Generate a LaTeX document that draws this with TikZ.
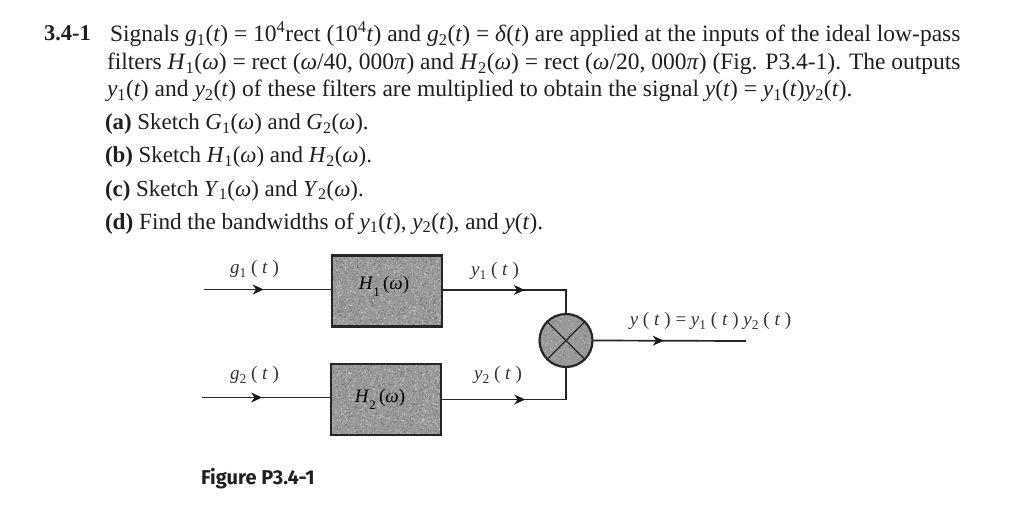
\documentclass[tikz,border=0pt]{standalone}
\usepackage{fontspec}
\setmainfont{Liberation Serif}
\newfontfamily\figfont{Fira Sans}
\usetikzlibrary{decorations.markings,arrows.meta}
\newcommand{\ii}[1]{\textit{#1}}
\newcommand{\lo}[1]{\textsubscript{#1}}
\newcommand{\flo}[1]{\raisebox{-4.5pt}{\fontsize{13.5}{14}\selectfont #1}}
\newcommand{\hlo}[1]{\raisebox{-7pt}{\fontsize{13}{14}\selectfont #1}\,}
\pgfmathsetseed{4711}
\tikzset{
  txt/.style={anchor=base west,inner sep=0pt,outer sep=0pt,text=black!88,font=\fontsize{23.5}{26}\selectfont},
  part/.style={txt,font=\fontsize{22.9}{26}\selectfont},
  lab/.style={anchor=base,inner sep=0pt,outer sep=0pt,text=black!80,font=\fontsize{19}{22}\selectfont},
  inlab/.style={anchor=center,inner sep=0pt,outer sep=0pt,text=black,font=\fontsize{19}{22}\selectfont},
  speckle/.style={path picture={
    \foreach \k in {1,...,#1}{
      \pgfmathsetmacro{\dx}{rnd*120-60}
      \pgfmathsetmacro{\dy}{rnd*80-40}
      \fill[white,opacity=.3] ([shift={(\dx pt,\dy pt)}]path picture bounding box.center) circle (.8pt);
      \pgfmathsetmacro{\ex}{rnd*120-60}
      \pgfmathsetmacro{\ey}{rnd*80-40}
      \fill[black,opacity=.16] ([shift={(\ex pt,\ey pt)}]path picture bounding box.center) circle (.8pt);
    }}},
  filt/.style={draw=black!85,line width=2.2pt,fill=black!40,speckle=800,minimum width=110pt,minimum height=71pt,inner sep=0pt},
  mult/.style={circle,draw=black!85,line width=2.2pt,fill=black!40,speckle=280,minimum size=53pt,inner sep=0pt},
  wire/.style={draw=black!85,line width=1.7pt},
  flow/.style={wire,postaction={decorate},decoration={markings,mark=at position #1 with {\arrow[black!90,line width=1pt]{Stealth[length=11pt,width=10pt,inset=3.5pt]}}}}
}
\begin{document}
\begin{tikzpicture}[x=1pt,y=-1pt]
\useasboundingbox (0,0) rectangle (1024,505);
\fill[white] (0,0) rectangle (1024,505);
% problem text
\node[part,font=\fontsize{22.5}{26}\selectfont\bfseries] (num) at (44,41) {3.4-1};
\node[txt] (l1) at (110,42) {Signals \ii{g}\lo{1}(\ii{t}) = 10\textsuperscript{4}rect (10\textsuperscript{4}\ii{t}) and \ii{g}\lo{2}(\ii{t}) = \ii{δ}(\ii{t}) are applied at the inputs of the ideal low-pass};
\node[txt] (l2) at (107,70) {filters \ii{H}\lo{1}(\ii{ω}) = rect (\ii{ω}/40, 000\ii{π}) and \ii{H}\lo{2}(\ii{ω}) = rect (\ii{ω}/20, 000\ii{π}) (Fig. P3.4-1). The outputs};
\node[txt] (l3) at (107,97) {\ii{y}\lo{1}(\ii{t}) and \ii{y}\lo{2}(\ii{t}) of these filters are multiplied to obtain the signal \ii{y}(\ii{t}) = \ii{y}\lo{1}(\ii{t})\ii{y}\lo{2}(\ii{t}).};
\node[part] (pa) at (105,130) {\textbf{(a)} Sketch \ii{G}\lo{1}(\ii{ω}) and \ii{G}\lo{2}(\ii{ω}).};
\node[part] (pb) at (105,163) {\textbf{(b)} Sketch \ii{H}\lo{1}(\ii{ω}) and \ii{H}\lo{2}(\ii{ω}).};
\node[part] (pc) at (105,196) {\textbf{(c)} Sketch \ii{Y}\lo{1}(\ii{ω}) and \ii{Y}\lo{2}(\ii{ω}).};
\node[part,font=\fontsize{23.2}{26}\selectfont] (pd) at (105,229) {\textbf{(d)} Find the bandwidths of \ii{y}\lo{1}(\ii{t}), \ii{y}\lo{2}(\ii{t}), and \ii{y}(\ii{t}).};
% blocks
\node[filt] (h1) at (387,291) {};
\node[filt] (h2) at (386,399.5) {};
\node[inlab] (h1t) at (384,286) {\ii{H}\hlo{1}(\ii{ω})};
\node[inlab] (h2t) at (380,399) {\ii{H}\hlo{2}(\ii{ω})};
\node[mult] (m) at (566,340.5) {};
\draw[draw=black!85,line width=1.3pt] (m.north west) -- (m.south east) (m.north east) -- (m.south west);
% free ends
\coordinate (g1in) at (204,289.5);
\coordinate (g2in) at (202,397.5);
\coordinate (out) at (746,341);
\coordinate (c1) at (566,290);
\coordinate (c2) at (566,399.5);
% connectors
\path[flow=0.47] (g1in) -- (h1.west |- g1in);
\path[flow=0.47] (g2in) -- (h2.west |- g2in);
\path[flow=0.56] (h1.east |- c1) -- (c1) -- (m.north);
\path[flow=0.535] (h2.east |- c2) -- (c2) -- (m.south);
\path[flow=0.46] (m.east) -- (out);
% labels
\node[lab] (g1l) at (254.5,273) {\ii{g}\flo{1} ( \ii{t} )};
\node[lab] (g2l) at (254.5,379) {\ii{g}\flo{2} ( \ii{t} )};
\node[lab] (y1l) at (495,275) {\ii{y}\flo{1} ( \ii{t} )};
\node[lab] (y2l) at (498,379) {\ii{y}\flo{2} ( \ii{t} )};
\node[lab] (yl) at (710.5,325) {\ii{y} ( \ii{t} ) = \ii{y}\flo{1} ( \ii{t} ) \ii{y}\flo{2} ( \ii{t} )};
\node[txt,font=\figfont\fontsize{20}{22}\selectfont\bfseries] (cap) at (201,484) {Figure P3.4-1};
\end{tikzpicture}
\end{document}
